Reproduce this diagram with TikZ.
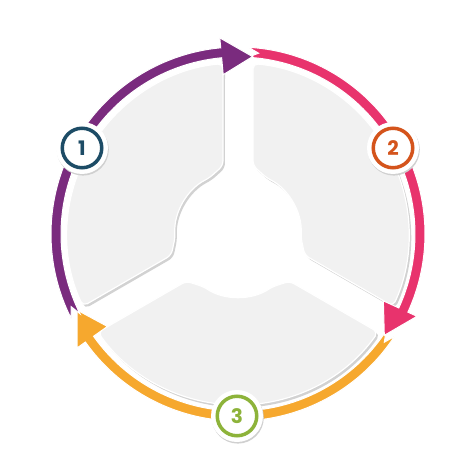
\documentclass[tikz,border=0pt]{standalone}
\usepackage{fontspec}
\newfontfamily\numfont{Poppins}
\definecolor{cpurple}{HTML}{7A2B7E}
\definecolor{cpink}{HTML}{E8336D}
\definecolor{corange}{HTML}{F6A82E}
\definecolor{cnavy}{HTML}{1D4C66}
\definecolor{cred}{HTML}{D4541C}
\definecolor{cgreen}{HTML}{8DB33A}
\definecolor{panelgray}{HTML}{F1F1F1}
\definecolor{panelshadow}{HTML}{D2D2D2}
\definecolor{badgeshadow}{HTML}{D0D0D0}
\newcommand\panelpath{(98.16,140.02) arc[start angle=54.97,end angle=-54.97,radius=171pt] -- (47.18,-51.71) -- (52.84,-34.31) arc[start angle=-33,end angle=33,radius=63pt] -- (47.18,51.71) -- cycle}
\newcommand\ringseg[5]{%
  \fill[#1, draw=white, line width=1pt] (#2:187pt) arc[start angle=#2, end angle=#4, radius=187pt] -- (#4:197pt) -- (#5:178pt) -- (#4:160pt) -- (#4:177pt) arc[start angle=#4, end angle=#2, radius=177pt] -- (#3:182pt) -- cycle;}
\tikzset{
  badge/.style={circle, inner sep=0pt, minimum size=39.5pt, line width=3.5pt, fill=white,
    font=\numfont\bfseries\fontsize{20}{20}\selectfont},
}
\begin{document}
\begin{tikzpicture}[x=1pt,y=1pt]
\useasboundingbox (-238,-240) rectangle (236,234);
\fill[white] (-238,-240) rectangle (236,234);
% panels
\foreach \b in {150,30,270} {
  \begin{scope}[shift={(2,-2.5)},rotate=\b]
    \fill[panelshadow, rounded corners=5pt] \panelpath;
  \end{scope}
}
\foreach \b in {150,30,270} {
  \begin{scope}[rotate=\b]
    \fill[panelgray, draw=white, line width=1.2pt, rounded corners=5pt] \panelpath;
  \end{scope}
}
% ring segments
\ringseg{corange}{-33.2}{-36.5}{-144.7}{-154.7}
\ringseg{cpink}{86.8}{83.5}{-24.7}{-34.7}
\ringseg{cpurple}{206.8}{203.5}{95.3}{85.3}
% badges
\coordinate (p1) at (-156,86);
\coordinate (p2) at (155,86);
\coordinate (p3) at (-1,-182);
\foreach \p in {p1,p2,p3} {
  \fill[badgeshadow] ([shift={(0.8,-1.6)}]\p) circle[radius=26pt];
  \fill[white] (\p) circle[radius=26pt];
}
\node[badge, draw=cnavy, text=cnavy] (b1) at (p1) {1};
\node[badge, draw=cred, text=cred] (b2) at (p2) {2};
\node[badge, draw=cgreen, text=cgreen] (b3) at (p3) {3};
\end{tikzpicture}
\end{document}
